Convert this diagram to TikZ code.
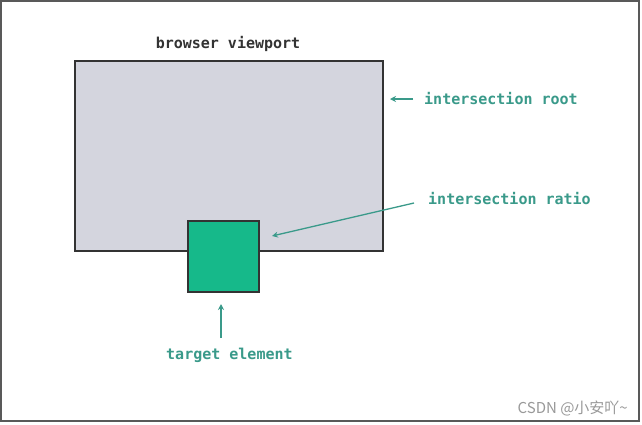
\documentclass[tikz,border=0pt]{standalone}
\usepackage{fontspec}
\setmonofont{DejaVu Sans Mono}
\newfontfamily\cjk{Noto Sans CJK SC}
\usetikzlibrary{arrows.meta}
\definecolor{teal1}{HTML}{3A9A8A}
\definecolor{boxfill}{HTML}{D4D5DE}
\definecolor{green1}{HTML}{16B98A}
\definecolor{edge}{HTML}{333333}
\tikzset{lab/.style={font=\ttfamily\bfseries\fontsize{15}{16}\selectfont,text=teal1,inner sep=0},
 arr/.style={teal1,line width=1.3pt,-{Stealth[length=6pt,width=6pt]}}}
\begin{document}
\begin{tikzpicture}[x=1pt,y=-1pt]
\useasboundingbox (0,0) rectangle (642,424);
\fill[white] (0,0) rectangle (642,424);
\draw[gray!70!black,line width=1.5pt] (1,421) -- (1,1) -- (639,1) -- (639,421) -- cycle;
\node[draw=edge,line width=1.2pt,fill=boxfill,minimum width=308pt,minimum height=190pt,inner sep=0] (vp) at (229,156) {};
\node[draw=edge,line width=1.2pt,fill=green1,minimum width=71pt,minimum height=71pt,inner sep=0] (tg) at (223.5,256.5) {};
\node[lab,text=edge,anchor=center] (bv) at (228,44) {browser viewport};
\node[lab,anchor=west] (ir) at (424,99) {intersection root};
\node[lab,anchor=west] (ira) at (428,199) {intersection ratio};
\node[lab,anchor=west] (te) at (166,355) {target element};
\coordinate (a1) at (413,99); \coordinate (a1e) at (390,99);
\draw[arr] (a1) -- (a1e);
\coordinate (a2) at (414,203); \coordinate (a2e) at (272,236);
\draw[arr] (a2) -- (a2e);
\coordinate (a3) at (221,338); \coordinate (a3e) at (221,304);
\draw[arr] (a3) -- (a3e);
\node[anchor=east,text=gray!80,font=\cjk\fontsize{15}{16}\selectfont,inner sep=0] (c) at (628,408) {CSDN @小安吖\textasciitilde};
\end{tikzpicture}
\end{document}
